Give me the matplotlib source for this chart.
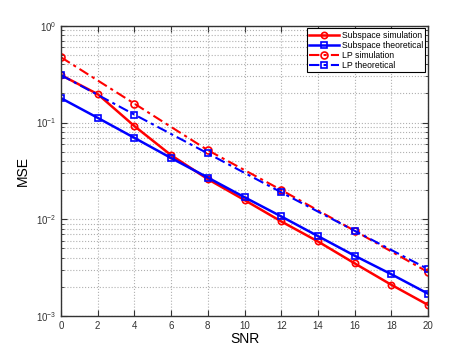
import matplotlib
matplotlib.use("Agg")
import matplotlib.pyplot as plt
from matplotlib.ticker import LogLocator, NullFormatter
import numpy as np

# data
snr = [0, 2, 4, 6, 8, 10, 12, 14, 16, 18, 20]
sub_sim = [0.31, 0.197, 0.092, 0.046, 0.026, 0.0158, 0.0095, 0.0059, 0.0035, 0.0021, 0.0013]
sub_theo = [0.179, 0.112, 0.0695, 0.043, 0.027, 0.0169, 0.0107, 0.0067, 0.0042, 0.0027, 0.0017]

snr_lp = [0, 4, 8, 12, 16, 20]
lp_sim = [0.474, 0.157, 0.0518, 0.0201, 0.0076, 0.00284]
lp_theo = [0.31, 0.121, 0.048, 0.019, 0.0076, 0.00305]

plt.rcParams['font.family'] = ['Liberation Sans', 'DejaVu Sans']

fig = plt.figure(figsize=(4.74, 3.55), dpi=100)
ax = fig.add_axes([0.1287, 0.110, 0.7743, 0.817])

ax.semilogy(snr, sub_sim, '-o', color='red', lw=1.8, ms=4.5, mew=1.2,
            markerfacecolor='none', label='Subspace simulation')
ax.semilogy(snr, sub_theo, '-s', color='blue', lw=1.8, ms=4.5, mew=1.2,
            markerfacecolor='none', label='Subspace theoretical')
ax.semilogy(snr_lp, lp_sim, color='red', ls=(0, (5, 2, 1.5, 2)), marker='o', lw=1.5, ms=5, mew=1.2,
            markerfacecolor='none', label='LP simulation')
ax.semilogy(snr_lp, lp_theo, color='blue', ls=(0, (5, 2, 1.5, 2)), marker='s', lw=1.5, ms=5, mew=1.2,
            markerfacecolor='none', label='LP theoretical')

ax.set_xlim(0, 20)
ax.set_ylim(1e-3, 1)
ax.set_xticks(range(0, 21, 2))
ax.yaxis.set_major_locator(LogLocator(base=10, numticks=10))
ax.yaxis.set_minor_locator(LogLocator(base=10, subs=np.arange(2, 10), numticks=10))
ax.yaxis.set_minor_formatter(NullFormatter())

ax.grid(True, which='major', ls=':', color='#b0b0b0', lw=0.8)
ax.grid(True, which='minor', axis='y', ls=':', color='#b0b0b0', lw=0.8)
ax.tick_params(which='both', direction='in', top=True, right=True, labelsize=7, colors='#333333')
ax.tick_params(which='major', length=4)
ax.tick_params(which='minor', length=2)
for s in ax.spines.values():
    s.set_color('#333333')
    s.set_linewidth(1.0)

ax.set_xlabel('SNR', fontsize=10, labelpad=1)
ax.set_ylabel('MSE', fontsize=10, labelpad=4)

leg = ax.legend(loc='upper right', fontsize=6.2, handlelength=3.4, handletextpad=0.4,
                borderpad=0.25, labelspacing=0.12, fancybox=False, framealpha=1,
                edgecolor='black', borderaxespad=0.3)
leg.get_frame().set_linewidth(0.8)

fig.savefig('out.png', dpi=100)
